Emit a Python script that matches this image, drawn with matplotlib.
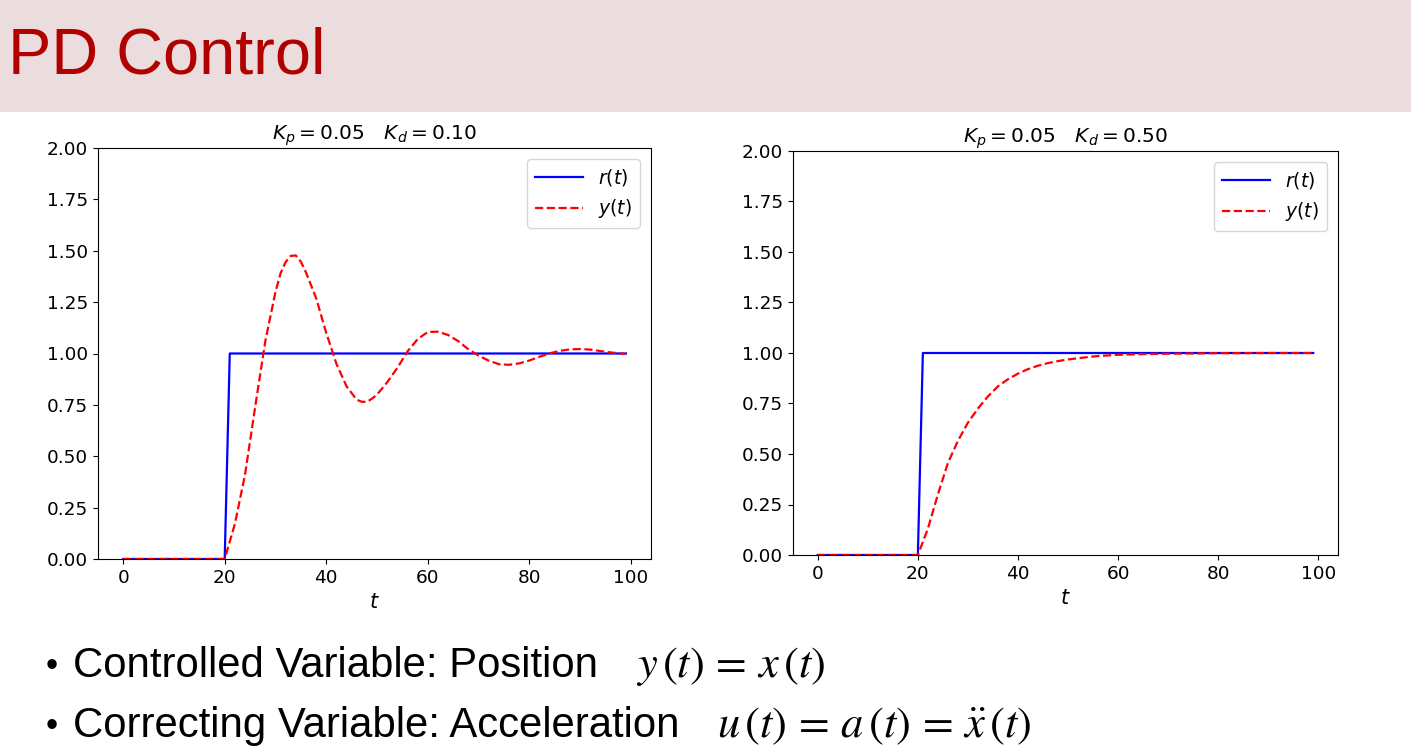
import matplotlib
matplotlib.use("Agg")
import matplotlib.pyplot as plt
from matplotlib.patches import Rectangle

# ---------------- data ----------------
t_ref = [0, 20, 21, 99]
r_ref = [0.0, 0.0, 1.0, 1.0]

t_y_left = [0, 20, 22, 24, 26, 28, 30, 31, 32, 33, 34, 35, 36, 38, 40, 42,
            44, 46, 47, 48, 49, 50, 52, 54, 56, 58, 60, 62, 64, 66, 68, 70,
            72, 74, 76, 78, 80, 82, 84, 86, 88, 90, 92, 94, 96, 98, 99]
y_left = [0.0, 0.0, 0.17, 0.41, 0.74, 1.06, 1.30, 1.39, 1.445, 1.475, 1.477,
          1.447, 1.395, 1.27, 1.10, 0.95, 0.84, 0.775, 0.765, 0.765, 0.78,
          0.80, 0.86, 0.93, 1.01, 1.07, 1.105, 1.106, 1.09, 1.06, 1.02, 0.99,
          0.965, 0.948, 0.945, 0.952, 0.966, 0.984, 1.001, 1.013, 1.020, 1.022,
          1.019, 1.012, 1.005, 1.000, 0.998]

t_y_right = [0, 20, 22, 24, 26, 28, 30, 32, 34, 36, 38, 40, 42, 44, 46, 48,
             50, 52, 54, 56, 58, 60, 64, 68, 72, 76, 80, 90, 99]
y_right = [0.0, 0.0, 0.13, 0.30, 0.455, 0.565, 0.655, 0.725, 0.785, 0.835,
           0.87, 0.898, 0.92, 0.937, 0.95, 0.96, 0.968, 0.974, 0.98, 0.985,
           0.988, 0.991, 0.994, 0.996, 0.997, 0.998, 0.999, 1.0, 1.0]

titles = [r"$K_p = 0.05\quad K_d = 0.10$", r"$K_p = 0.05\quad K_d = 0.50$"]
yticks = [0.0, 0.25, 0.5, 0.75, 1.0, 1.25, 1.5, 1.75, 2.0]
xticks = [0, 20, 40, 60, 80, 100]

slide_title = "PD Control"
bullet1 = "Controlled Variable: Position"
bullet2 = "Correcting Variable: Acceleration"
math1 = r"$y\,(t)\,=\,x\,(t)$"
math2 = r"$u\,(t)\,=\,a\,(t)\,=\,\ddot{x}\,(t)$"

# ---------------- figure ----------------
W, H = 1411, 752
fig = plt.figure(figsize=(W / 100, H / 100), dpi=100)
fig.patch.set_facecolor("white")

# header band
fig.patches.append(Rectangle((0, 1 - 112 / H), 1, 112 / H, transform=fig.transFigure,
                             facecolor="#EBDDDE", edgecolor="none", zorder=0))
fig.text(8 / W, 1 - 73 / H, slide_title, color="#B00000", fontsize=46.7,
         family="Liberation Sans", va="baseline", ha="left")

axes_rects = [
    (98 / W, 1 - 559 / H, 553 / W, 411 / H),
    (793 / W, 1 - 555 / H, 545 / W, 404 / H),
]
series = [(t_y_left, y_left), (t_y_right, y_right)]

for rect, (tv, yv), title in zip(axes_rects, series, titles):
    ax = fig.add_axes(rect)
    ax.plot(t_ref, r_ref, "b-", lw=1.6, label=r"$r(t)$")
    ax.plot(tv, yv, "r--", lw=1.6, label=r"$y(t)$")
    ax.set_ylim(0, 2)
    ax.set_xlim(-4.95, 103.95)
    ax.set_yticks(yticks)
    ax.set_xticks(xticks)
    ax.tick_params(labelsize=13.3)
    ax.set_title(title, fontsize=14.5, pad=5)
    ax.set_xlabel(r"$t$", fontsize=15, labelpad=4)
    ax.legend(loc="upper right", fontsize=13.5, handlelength=2.6,
              borderaxespad=0.6)

# bullets
for yb, txt, mx, mt in [(677, bullet1, 636, math1), (737, bullet2, 717, math2)]:
    fig.text(46 / W, 1 - (yb - 1) / H, "\u2022", fontsize=25, family="Liberation Sans",
             va="baseline", ha="left", color="black")
    fig.text(73 / W, 1 - yb / H, txt, fontsize=30.2, family="Liberation Sans",
             va="baseline", ha="left", color="black")
    fig.text(mx / W, 1 - yb / H, mt, fontsize=32, math_fontfamily="stix",
             va="baseline", ha="left", color="black")

fig.savefig("out.png", dpi=100)
